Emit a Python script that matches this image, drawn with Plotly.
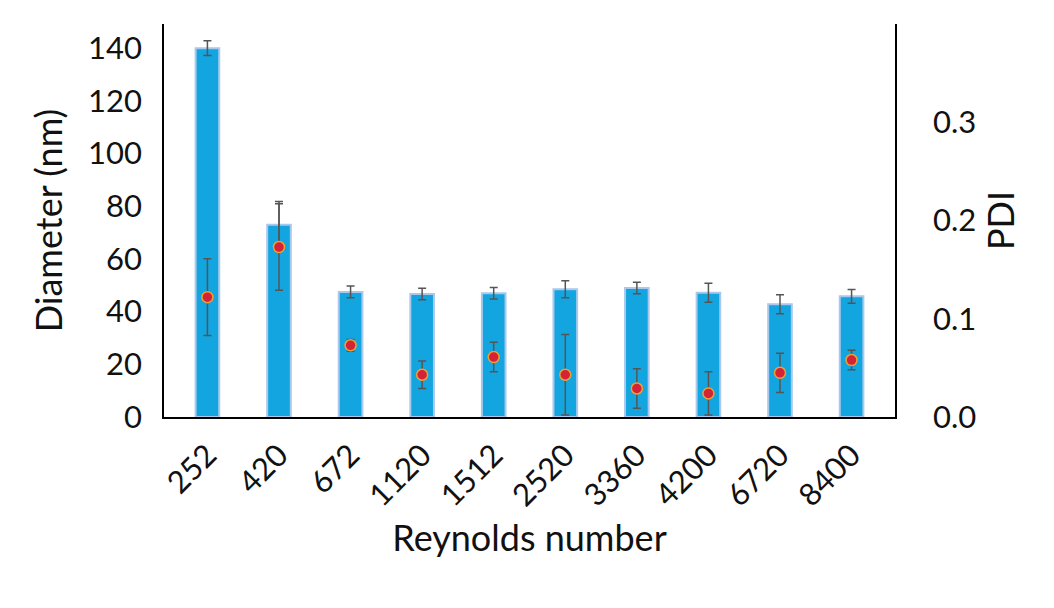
import plotly.graph_objects as go

reynolds = ["252", "420", "672", "1120", "1512", "2520", "3360", "4200", "6720", "8400"]
diameter = [140, 73, 47.5, 46.7, 47, 48.5, 49, 47.2, 42.8, 45.8]
diameter_err = [2.8, 8.8, 2.2, 2.2, 2.2, 3.2, 2.2, 3.6, 3.6, 2.6]
pdi = [0.122, 0.173, 0.073, 0.043, 0.061, 0.043, 0.029, 0.024, 0.045, 0.058]
pdi_err = [0.039, 0.044, 0.006, 0.014, 0.015, 0.041, 0.02, 0.022, 0.02, 0.01]

font = "Lato"

fig = go.Figure()
fig.add_trace(go.Bar(
    x=reynolds, y=diameter, width=0.33,
    marker=dict(color="#12A5E0", line=dict(color="#A9C8EC", width=2)),
    error_y=dict(type="data", array=diameter_err, color="#555555", thickness=1.5, width=4),
    showlegend=False,
))
fig.add_trace(go.Scatter(
    x=reynolds, y=pdi, yaxis="y2", mode="markers",
    marker=dict(color="#D42236", size=11, line=dict(color="#F0A030", width=1.5)),
    error_y=dict(type="data", array=pdi_err, color="#555555", thickness=1.5, width=4),
    showlegend=False,
))

fig.update_layout(
    width=1054, height=608,
    plot_bgcolor="white", paper_bgcolor="white",
    margin=dict(l=156, r=167, t=16, b=199),
    font=dict(family=font, size=31, color="#111111"),
    bargap=0.5,
    xaxis=dict(
        title=dict(text="Reynolds number", font=dict(size=36), standoff=14),
        tickangle=-45, showline=True, linecolor="black", linewidth=1.5,
        ticks="", showgrid=False, ticklabelstandoff=6,
    ),
    yaxis=dict(
        title=dict(text="Diameter (nm)", font=dict(size=36), standoff=14),
        range=[0, 149.2], tickvals=[0, 20, 40, 60, 80, 100, 120, 140],
        showline=True, linecolor="black", linewidth=1.5, showgrid=False, zeroline=False,
        ticklabelstandoff=14,
    ),
    yaxis2=dict(
        title=dict(text="PDI", font=dict(size=36), standoff=14),
        overlaying="y", side="right", range=[0, 0.4], tickvals=[0, 0.1, 0.2, 0.3, 0.4],
        tickformat=".1f", showline=True, linecolor="black", linewidth=1.5,
        showgrid=False, zeroline=False, ticklabelstandoff=30,
    ),
)

fig.write_html("out.html")
